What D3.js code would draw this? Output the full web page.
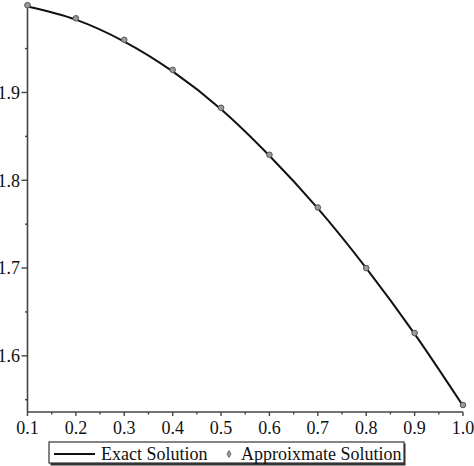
<!DOCTYPE html>
<html>
<head>
<meta charset="utf-8">
<script src="https://cdn.jsdelivr.net/npm/d3@7"></script>
<style>
  body { margin: 0; background: #fff; }
  svg text { font-family: "Liberation Serif", "DejaVu Serif", serif; fill: #111; }
</style>
</head>
<body>
<div id="chart"></div>
<script>
// values
var xValues = [0.1, 0.2, 0.3, 0.4, 0.5, 0.6, 0.7, 0.8, 0.9, 1.0];
var exactValues = [1.998, 1.983, 1.958, 1.924, 1.881, 1.828, 1.768, 1.700, 1.625, 1.543];
var approxValues = [1.9995, 1.9845, 1.960, 1.9258, 1.8826, 1.829, 1.769, 1.700, 1.626, 1.544];
var xTicks = [0.1, 0.2, 0.3, 0.4, 0.5, 0.6, 0.7, 0.8, 0.9, 1.0];
var yTicks = [1.6, 1.7, 1.8, 1.9];
var legendLabels = ["Exact Solution", "Approixmate Solution"];

var width = 474, height = 466;

var svg = d3.select("#chart").append("svg")
    .attr("width", width)
    .attr("height", height);

var x = d3.scaleLinear().domain([0.1, 1.0]).range([27.5, 463]);
var y = d3.scaleLinear().domain([1.536, 2.0]).range([412, 4.7]);

// minor tick positions halfway between the majors
var xMinor = [0.15, 0.25, 0.35, 0.45, 0.55, 0.65, 0.75, 0.85, 0.95];
var yMinor = [1.55, 1.65, 1.75, 1.85, 1.95];

// x axis
var xAxis = svg.append("g").attr("transform", "translate(0,412)");
xAxis.append("line")
    .attr("x1", x(0.1)).attr("x2", x(1.0))
    .attr("stroke", "#444").attr("stroke-width", 1.6);
xAxis.selectAll(".major").data(xTicks).enter().append("line")
    .attr("x1", d => x(d)).attr("x2", d => x(d))
    .attr("y1", 0).attr("y2", 4)
    .attr("stroke", "#444").attr("stroke-width", 1.4);
xAxis.selectAll(".minor").data(xMinor).enter().append("line")
    .attr("x1", d => x(d)).attr("x2", d => x(d))
    .attr("y1", 0).attr("y2", 2.5)
    .attr("stroke", "#444").attr("stroke-width", 1.4);
xAxis.selectAll("text").data(xTicks).enter().append("text")
    .attr("x", d => x(d))
    .attr("y", 22)
    .attr("text-anchor", "middle")
    .style("font-size", "18px")
    .text(d => d3.format(".1f")(d));

// y axis
var yAxis = svg.append("g").attr("transform", "translate(27.5,0)");
yAxis.append("line")
    .attr("y1", y(2.0)).attr("y2", y(1.536))
    .attr("stroke", "#444").attr("stroke-width", 1.6);
yAxis.selectAll(".major").data(yTicks).enter().append("line")
    .attr("y1", d => y(d)).attr("y2", d => y(d))
    .attr("x1", -6).attr("x2", 0)
    .attr("stroke", "#444").attr("stroke-width", 1.4);
yAxis.selectAll(".minor").data(yMinor).enter().append("line")
    .attr("y1", d => y(d)).attr("y2", d => y(d))
    .attr("x1", -2.5).attr("x2", 0)
    .attr("stroke", "#444").attr("stroke-width", 1.4);
yAxis.selectAll("text").data(yTicks).enter().append("text")
    .attr("x", -7.5)
    .attr("y", d => y(d))
    .attr("dy", "0.35em")
    .attr("text-anchor", "end")
    .style("font-size", "18px")
    .text(d => d3.format(".1f")(d));

// exact solution curve
var line = d3.line()
    .x((d, i) => x(xValues[i]))
    .y(d => y(d))
    .curve(d3.curveMonotoneX);

svg.append("path")
    .datum(exactValues)
    .attr("d", line)
    .attr("fill", "none")
    .attr("stroke", "#111")
    .attr("stroke-width", 2);

// approximate solution points
svg.append("g").selectAll("circle")
    .data(approxValues)
    .enter().append("circle")
    .attr("cx", (d, i) => x(xValues[i]))
    .attr("cy", d => y(d))
    .attr("r", 2.8)
    .attr("fill", "#9a9a9a")
    .attr("stroke", "#555")
    .attr("stroke-width", 1);

// legend
var legend = svg.append("g");
legend.append("rect")
    .attr("x", 50.5).attr("y", 443.5)
    .attr("width", 355).attr("height", 22)
    .attr("fill", "#333");
legend.append("rect")
    .attr("x", 49).attr("y", 442)
    .attr("width", 355).attr("height", 21)
    .attr("fill", "#fff")
    .attr("stroke", "#333")
    .attr("stroke-width", 1.2);
legend.append("line")
    .attr("x1", 54).attr("x2", 95)
    .attr("y1", 454).attr("y2", 454)
    .attr("stroke", "#111").attr("stroke-width", 2);
legend.append("text")
    .attr("x", 101).attr("y", 460)
    .style("font-size", "18px")
    .text(legendLabels[0]);
legend.append("path")
    .attr("d", d3.symbol().type(d3.symbolDiamond).size(14)())
    .attr("transform", "translate(229,454)")
    .attr("fill", "#9a9a9a")
    .attr("stroke", "#555")
    .attr("stroke-width", 0.8);
legend.append("text")
    .attr("x", 241).attr("y", 460)
    .style("font-size", "18px")
    .text(legendLabels[1]);
</script>
</body>
</html>
